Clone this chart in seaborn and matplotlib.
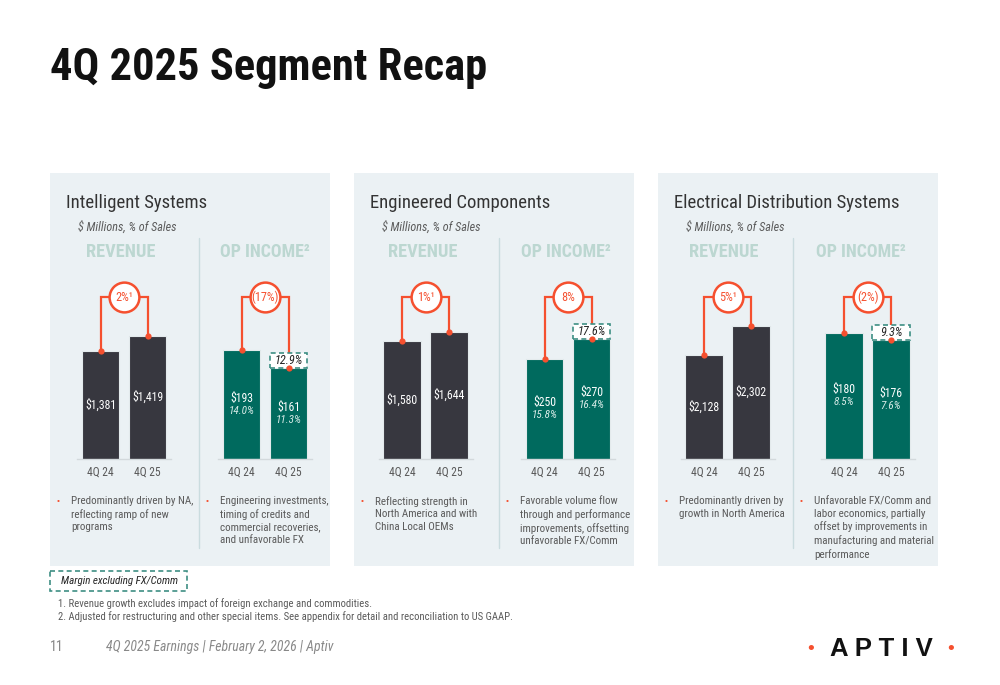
import os
import matplotlib
matplotlib.use("Agg")
import matplotlib.pyplot as plt
import matplotlib.font_manager as fm
from matplotlib.patches import Rectangle
import pandas as pd
import seaborn as sns

# ---- data ----
segments = ["Intelligent Systems", "Engineered Components", "Electrical Distribution Systems"]
periods = ["4Q 24", "4Q 25"]
revenue = [[1381, 1419], [1580, 1644], [2128, 2302]]
op_income = [[193, 161], [250, 270], [180, 176]]
op_margin = [[14.0, 11.3], [15.8, 16.4], [8.5, 7.6]]
margin_ex_fx = [12.9, 17.6, 9.3]
rev_growth = [2, 1, 5]
op_growth = [-17, 8, -2]

rev_notes = [
    "Predominantly driven by NA,\nreflecting ramp of new\nprograms",
    "Reflecting strength in\nNorth America and with\nChina Local OEMs",
    "Predominantly driven by\ngrowth in North America",
]
op_notes = [
    "Engineering investments,\ntiming of credits and\ncommercial recoveries,\nand unfavorable FX",
    "Favorable volume flow\nthrough and performance\nimprovements, offsetting\nunfavorable FX/Comm",
    "Unfavorable FX/Comm and\nlabor economics, partially\noffset by improvements in\nmanufacturing and material\nperformance",
]

# ---- layout (pixels) ----
W, H = 1000, 685
PANEL_LEFT = [50, 354, 658]
DIVIDER_X = [199, 499, 793]
REV_AX_LEFT = [77, 378.5, 680.5]
OP_AX_LEFT = [218, 521, 820.5]
REV_HDR_X = [121, 423, 724]
OP_HDR_X = [265, 566, 861]
REV_YLIM = [(1101, 1564), (735, 2013), (1502, 2576)]
OP_YLIM = [(0, 318), (152, 327.5), (108, 210)]
AX_TOP, AX_H, AX_W = 280, 179, 94

PANEL_BG = "#EBF1F4"
DARK = "#37373F"
GREEN = "#006A5E"
ORANGE = "#F5502F"
GREY = "#595959"
HDR = "#BCD7D1"
DASH = "#3E8F84"

sns.set_theme(style="white")
plt.rcParams["font.family"] = ["Liberation Sans", "DejaVu Sans"]

# the slide is set in a narrow face; use a condensed one if the system has it
PREFS = [("RobotoCondensed", 1.0), ("LiberationSansNarrow", 1.0), ("ArialNarrow", 1.0),
         ("NotoSans-Condensed", 0.9), ("OpenSansCondensed", 0.9),
         ("DejaVuSansCondensed", 0.84)]
files = sorted({f.fname for f in fm.fontManager.ttflist})
COND, SCALE = {}, 0.82
for pre, sc in PREFS:
    for path in files:
        base = os.path.splitext(os.path.basename(path))[0].replace(" ", "").replace("_", "")
        if not base.startswith(pre):
            continue
        rest = base[len(pre):].lower().replace("-", "").replace("regular", "")
        rest = rest.replace("oblique", "italic")
        key = {"": (False, False), "bold": (True, False), "italic": (False, True),
               "bolditalic": (True, True)}.get(rest)
        if key is not None:
            COND[key] = path
    if (False, False) in COND:
        SCALE = sc
        break
    COND = {}


def font(size, bold=False, italic=False):
    path = COND.get((bold, italic)) or COND.get((bold, False))
    if path:
        return {"fontproperties": fm.FontProperties(fname=path, size=size * SCALE)}
    return {"family": ["Liberation Sans", "DejaVu Sans"], "fontsize": size * SCALE,
            "fontweight": "bold" if bold else "normal",
            "style": "italic" if italic else "normal"}


fig = plt.figure(figsize=(W / 100, H / 100), dpi=100)
fig.patch.set_facecolor("white")

ov = fig.add_axes([0, 0, 1, 1])
ov.set_xlim(0, W)
ov.set_ylim(H, 0)
ov.axis("off")


def px_axes(left, top, width, height):
    return fig.add_axes([left / W, 1 - (top + height) / H, width / W, height / H])


def bar_chart(left, values, ylim, color, growth_label, margins=None, ex_fx=None):
    ax = px_axes(left, AX_TOP, AX_W, AX_H)
    ax.set_facecolor("none")
    df = pd.DataFrame({"period": periods, "value": values})
    sns.barplot(data=df, x="period", y="value", ax=ax, color=color, width=0.8,
                saturation=1, edgecolor="#E3EAEC", linewidth=0.8, zorder=2)
    ax.set_xlim(-0.5, 1.5)
    lo, hi = ylim
    ax.set_ylim(lo, hi)
    ax.set_xlabel("")
    ax.set_ylabel("")
    ax.set_yticks([])
    for s in ["left", "right", "top"]:
        ax.spines[s].set_visible(False)
    ax.spines["bottom"].set_color("#D3D9DC")
    ax.spines["bottom"].set_linewidth(1)
    ax.tick_params(axis="x", length=0, pad=5)
    ax.set_xticks([0, 1], periods, color=GREY, **font(8.4))

    level = lo + 0.905 * (hi - lo)
    ax.plot([0, 0, 1, 1], [values[0], level, level, values[1]], color=ORANGE,
            lw=1.6, zorder=3, clip_on=False, solid_joinstyle="miter")
    ax.scatter([0, 1], values, s=20, color=ORANGE, zorder=6, clip_on=False, linewidths=0)
    ax.scatter([0.5], [level], s=460, marker="o", facecolor="white", edgecolor=ORANGE,
               linewidths=1.8, zorder=6, clip_on=False)
    ax.text(0.5, level, growth_label, ha="center", va="center", color=ORANGE,
            zorder=7, **font(8.8))

    base = max(lo, 0)
    for i, v in enumerate(values):
        mid = (base + v) / 2
        if margins is None:
            ax.text(i, mid, f"${v:,}", ha="center", va="center", color="white",
                    zorder=5, **font(8.5))
        else:
            ax.annotate(f"${v:,}", (i, mid), xytext=(0, 4.5), textcoords="offset points",
                        ha="center", va="center", color="white", zorder=5, **font(8.5))
            ax.annotate(f"{margins[i]:.1f}%", (i, mid), xytext=(0, -4.5),
                        textcoords="offset points", ha="center", va="center",
                        color="#D8ECE8", zorder=5, **font(8.1, italic=True))

    if ex_fx is not None:
        k = AX_H / (hi - lo)
        hbox = 15 / k
        ax.add_patch(Rectangle((0.6, values[1]), 0.8, hbox, facecolor="white",
                               edgecolor=DASH, linestyle=(0, (3, 2)), lw=1.2,
                               zorder=4, clip_on=False))
        ax.text(1, values[1] + hbox / 2, f"{ex_fx:.1f}%", ha="center", va="center",
                color="#222222", zorder=5, **font(8.8, italic=True))
    return ax


# ---- slide title ----
ov.text(50, 68, "4Q 2025 Segment Recap", color="#111111", va="center", ha="left",
        **font(32, bold=True))

for p in range(3):
    x0 = PANEL_LEFT[p]
    ov.add_patch(Rectangle((x0, 172.5), 280, 393.5, color=PANEL_BG, zorder=0, lw=0))
    ov.plot([DIVIDER_X[p]] * 2, [238, 548], color="#CADCDF", lw=1, zorder=1)
    ov.text(x0 + 16, 203, segments[p], color="#333333", va="center", ha="left",
            **font(13.4))
    ov.text(x0 + 28, 227, "$ Millions, % of Sales", color=GREY, va="center",
            ha="left", **font(8.7, italic=True))
    ov.text(REV_HDR_X[p], 252, "REVENUE", color=HDR, ha="center", va="center",
            **font(13.2, bold=True))
    ov.text(OP_HDR_X[p], 252, "OP INCOME²", color=HDR, ha="center", va="center",
            **font(12.9, bold=True))

    bar_chart(REV_AX_LEFT[p], revenue[p], REV_YLIM[p], DARK, f"{rev_growth[p]}%¹")
    g = op_growth[p]
    glab = f"({abs(g)}%)" if g < 0 else f"{g}%"
    bar_chart(OP_AX_LEFT[p], op_income[p], OP_YLIM[p], GREEN, glab,
              margins=op_margin[p], ex_fx=margin_ex_fx[p])

    for bx, note in [(x0 + 8, rev_notes[p]), (DIVIDER_X[p] + 8, op_notes[p])]:
        ov.text(bx, 501, "•", color=ORANGE, fontsize=6, ha="center", va="center")
        ov.text(bx + 13, 496, note, color=GREY, ha="left", va="top",
                linespacing=1.32, **font(7.9))

# ---- legend / footnotes / footer ----
ov.add_patch(Rectangle((50, 570.5), 136.5, 20, facecolor="white", edgecolor=DASH,
                       linestyle=(0, (3, 2)), lw=1.2, zorder=2))
ov.text(61, 581, "Margin excluding FX/Comm", color="#222222", va="center", ha="left",
        zorder=3, **font(7.9, italic=True))
ov.text(58, 604, "1. Revenue growth excludes impact of foreign exchange and commodities.",
        color=GREY, va="center", ha="left", **font(7.65))
ov.text(58, 617, "2. Adjusted for restructuring and other special items. See appendix for "
        "detail and reconciliation to US GAAP.", color=GREY, va="center", ha="left",
        **font(7.65))
ov.text(50, 647, "11", color="#888888", va="center", ha="left", **font(10))
ov.text(106, 647, "4Q 2025 Earnings | February 2, 2026 | Aptiv", color="#888888",
        va="center", ha="left", **font(9.9, italic=True))

ov.text(881, 649, "A P T I V", fontsize=18.5, fontweight="bold", color="#111111",
        ha="center", va="center", family=["Liberation Sans", "DejaVu Sans"])
ov.text(811, 649, "•", fontsize=14, color=ORANGE, ha="center", va="center")
ov.text(951, 649, "•", fontsize=14, color=ORANGE, ha="center", va="center")

fig.savefig("out.png", dpi=100, facecolor="white")
